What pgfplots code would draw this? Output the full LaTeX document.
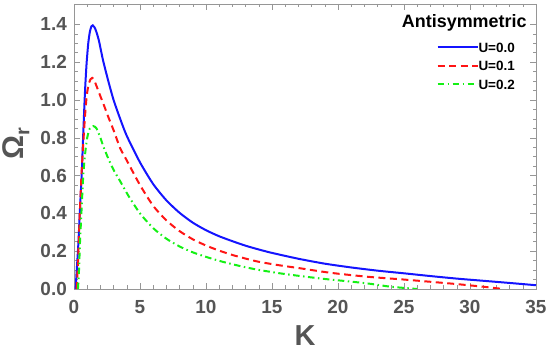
\documentclass[border=0pt]{standalone}
\usepackage{pgfplots}
\pgfplotsset{compat=1.18}
\usepackage{fontspec}
\setmainfont{Liberation Sans}
\definecolor{tickgray}{RGB}{85,85,85}
\definecolor{framegray}{RGB}{150,150,150}
\definecolor{cblue}{RGB}{20,20,255}
\definecolor{cred}{RGB}{255,20,20}
\definecolor{cgreen}{RGB}{20,240,20}
\begin{document}
\begin{tikzpicture}
\path[use as bounding box] (0,0) rectangle (550bp,351bp);
\begin{axis}[
  at={(74bp,62bp)}, anchor=south west,
  scale only axis, width=462bp, height=285bp,
  xmin=0, xmax=35, ymin=0, ymax=1.508,
  xtick={0,5,10,15,20,25,30,35},
  ytick={0,0.2,0.4,0.6,0.8,1.0,1.2,1.4},
  minor x tick num=4, minor y tick num=3,
  tick align=inside, major tick length=6bp, minor tick length=3.5bp,
  axis line style={framegray, line width=0.8bp},
  every tick/.style={framegray, line width=0.6bp},
  /pgf/number format/assume math mode=true,
  tick label style={font=\fontsize{19}{19}\selectfont\bfseries, text=tickgray, inner sep=0pt},
  xticklabel style={yshift=-11bp},
  yticklabel style={xshift=-7bp, /pgf/number format/.cd, fixed, fixed zerofill, precision=1},
  xlabel={K},
  xlabel style={at={(rel axis cs:0.5,0)}, anchor=center, yshift=-47bp, font=\fontsize{29}{29}\selectfont\bfseries, text=tickgray},
  ylabel={Ω\raisebox{-0.2em}{\fontsize{20}{20}\selectfont r}},
  ylabel style={at={(rel axis cs:0,0.51)}, anchor=center, yshift=58bp, font=\fontsize{30}{30}\selectfont\bfseries, text=tickgray},
  legend style={draw=none, fill=none, at={(rel axis cs:0.9545,0.866)}, anchor=north east, inner sep=0pt,
    font=\fontsize{13.5}{13.5}\selectfont\bfseries, row sep=8.8bp,
    nodes={inner sep=0pt, text height=9.7bp, text depth=0bp},
    /tikz/every even column/.append style={column sep=6bp}},
  legend cell align=left,
  legend image code/.code={\draw[#1] (0bp,0bp) -- (40bp,0bp);},
]
\addplot[cblue, line width=2bp, smooth, tension=0.4] coordinates {
(0.12,0) (0.2,0.09) (0.33,0.24) (0.45,0.42) (0.58,0.60) (0.7,0.82) (0.83,1.04) (0.95,1.19) (1.08,1.30) (1.2,1.36) (1.32,1.39) (1.42,1.395) (1.55,1.385) (1.7,1.36) (1.9,1.31) (2.2,1.21) (2.6,1.10) (3.0,1.00) (3.5,0.90) (4.0,0.81) (5.0,0.67) (6.0,0.555) (7.0,0.469) (8.0,0.403) (9.0,0.351) (10,0.311) (11,0.279) (12,0.253) (13,0.229) (14,0.209) (15,0.191) (17,0.160) (19,0.134) (21,0.114) (23,0.097) (25,0.083) (27,0.0685) (29,0.055) (31,0.0435) (33,0.032) (35,0.020)
};
\addlegendentry{U=0.0}
\addplot[cred, line width=2bp, dash pattern=on 7bp off 4.5bp, smooth, tension=0.4] coordinates {
(0.2,0) (0.3,0.14) (0.45,0.42) (0.58,0.62) (0.7,0.77) (0.83,0.91) (0.96,1.02) (1.1,1.08) (1.25,1.11) (1.38,1.117) (1.5,1.11) (1.7,1.075) (2.0,1.02) (2.2,0.985) (2.6,0.91) (3.0,0.84) (3.5,0.745) (4.0,0.68) (5.0,0.55) (6.0,0.44) (7.0,0.363) (8.0,0.306) (9.0,0.263) (10,0.230) (11,0.203) (12,0.180) (13,0.161) (14,0.144) (15.6,0.125) (17.1,0.11) (19.4,0.086) (22.2,0.065) (25,0.05) (27.2,0.037) (29,0.026) (31,0.012) (32.5,0)
};
\addlegendentry{U=0.1}
\addplot[cgreen, line width=2bp, dash pattern=on 6.5bp off 3.5bp on 1.5bp off 3.5bp, smooth, tension=0.4] coordinates {
(0.3,0) (0.38,0.1) (0.45,0.24) (0.58,0.43) (0.7,0.6) (0.85,0.72) (1.0,0.8) (1.2,0.85) (1.46,0.862) (1.7,0.85) (2.0,0.80) (2.22,0.755) (2.6,0.69) (3.0,0.63) (3.5,0.57) (4.15,0.49) (5,0.40) (6,0.322) (7,0.266) (8,0.225) (9,0.194) (10,0.170) (11,0.149) (12,0.131) (13,0.115) (14,0.101) (15.6,0.083) (17.1,0.069) (19,0.053) (21,0.039) (22.5,0.027) (24,0.012) (26,0)
};
\addlegendentry{U=0.2}
\node[anchor=base east, inner sep=0pt, font=\fontsize{18}{18}\selectfont\bfseries] at (rel axis cs:0.980,0.918) {Antisymmetric};
\end{axis}
\end{tikzpicture}
\end{document}
